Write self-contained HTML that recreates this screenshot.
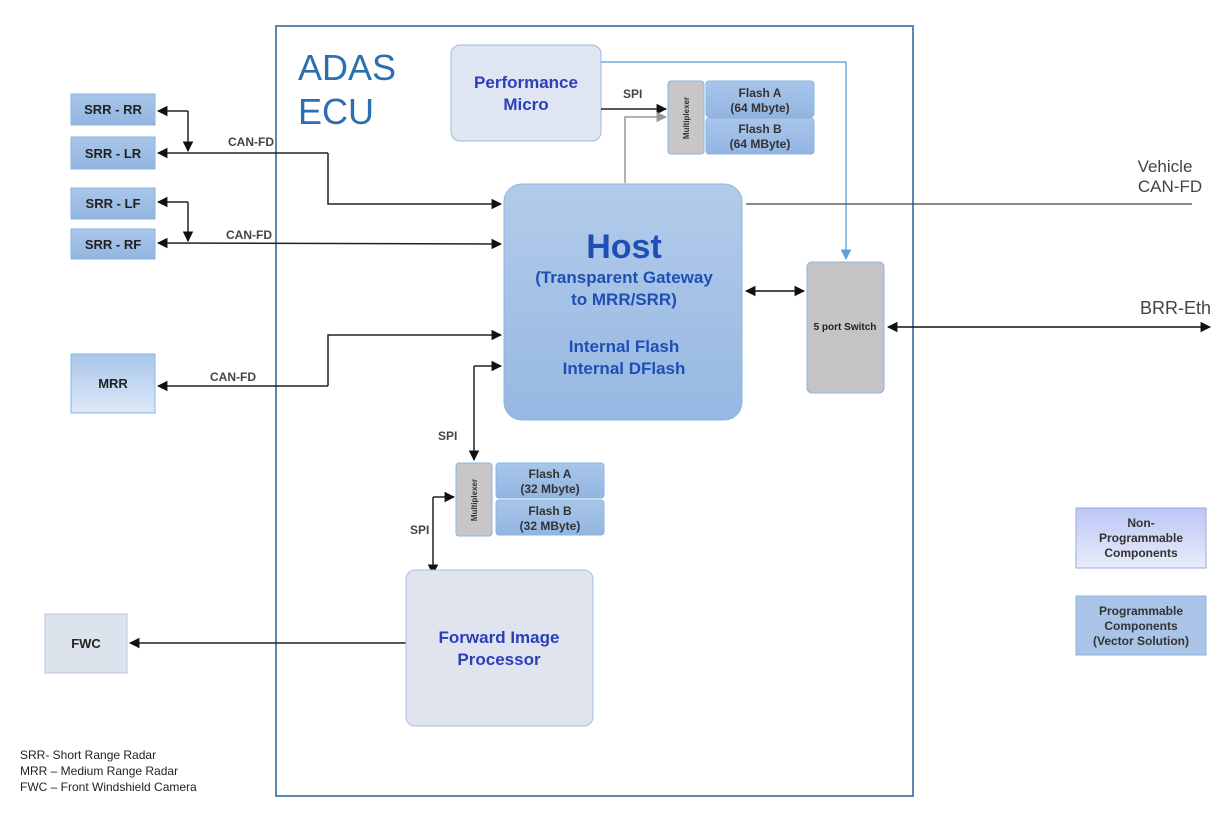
<!DOCTYPE html>
<html><head><meta charset="utf-8"><style>
html,body{margin:0;padding:0;background:#fff;}
svg{display:block;font-family:"Liberation Sans",Arial,sans-serif;}
</style></head><body>
<svg width="1222" height="823" viewBox="0 0 1222 823" xmlns="http://www.w3.org/2000/svg">
<defs>
<marker id="a" viewBox="0 0 10 10" refX="9" refY="5" markerWidth="7" markerHeight="7" orient="auto-start-reverse"><path d="M0,0L10,5L0,10z" fill="#111"/></marker>
<marker id="g" viewBox="0 0 10 10" refX="9" refY="5" markerWidth="7" markerHeight="7" orient="auto"><path d="M0,0L10,5L0,10z" fill="#999"/></marker>
<marker id="b" viewBox="0 0 10 10" refX="9" refY="5" markerWidth="7" markerHeight="7" orient="auto"><path d="M0,0L10,5L0,10z" fill="#5b9fdc"/></marker>
<linearGradient id="host" x1="0" y1="0" x2="0" y2="1"><stop offset="0" stop-color="#b3cbea"/><stop offset="1" stop-color="#96b8e2"/></linearGradient>
<linearGradient id="box" x1="0" y1="0" x2="0" y2="1"><stop offset="0" stop-color="#a9c6ea"/><stop offset="1" stop-color="#92b5e0"/></linearGradient>
<linearGradient id="mrr" x1="0" y1="0" x2="0" y2="1"><stop offset="0" stop-color="#a9c6ea"/><stop offset="1" stop-color="#dde9f8"/></linearGradient>
<linearGradient id="np" x1="0" y1="0" x2="0" y2="1"><stop offset="0" stop-color="#bcc6f4"/><stop offset="1" stop-color="#e8ecfb"/></linearGradient>
</defs>

<rect x="276" y="26" width="637" height="770" fill="none" stroke="#5a86b0" stroke-width="2"/>
<text x="298" y="80" font-size="36" fill="#2a6fb0">ADAS</text>
<text x="298" y="124" font-size="36" fill="#2a6fb0">ECU</text>

<!-- Performance Micro -->
<rect x="451" y="45" width="150" height="96" rx="9" fill="#dfe6f2" stroke="#9bbbe0"/>
<text x="526" y="88" font-size="17" font-weight="bold" fill="#2b3fb8" text-anchor="middle">Performance</text>
<text x="526" y="110" font-size="17" font-weight="bold" fill="#2b3fb8" text-anchor="middle">Micro</text>

<!-- top mux/flash -->
<rect x="668" y="81" width="36" height="73" rx="3" fill="#c8c6c6" stroke="#8ab4e0"/>
<text transform="translate(689,118) rotate(-90)" font-size="8" font-weight="bold" fill="#333" text-anchor="middle">Multiplexer</text>
<rect x="706" y="81" width="108" height="36" rx="3" fill="url(#box)" stroke="#8ab4e0"/>
<rect x="706" y="118" width="108" height="36" rx="3" fill="url(#box)" stroke="#8ab4e0"/>

<!-- bottom mux/flash -->
<rect x="456" y="463" width="36" height="73" rx="3" fill="#c8c6c6" stroke="#8ab4e0"/>
<text transform="translate(477,500) rotate(-90)" font-size="8" font-weight="bold" fill="#333" text-anchor="middle">Multiplexer</text>
<rect x="496" y="463" width="108" height="35" rx="3" fill="url(#box)" stroke="#8ab4e0"/>
<rect x="496" y="500" width="108" height="35" rx="3" fill="url(#box)" stroke="#8ab4e0"/>

<g font-size="12" font-weight="bold" fill="#333" text-anchor="middle">
<text x="760" y="97">Flash A</text><text x="760" y="112">(64 Mbyte)</text>
<text x="760" y="133">Flash B</text><text x="760" y="148">(64 MByte)</text>
<text x="550" y="478">Flash A</text>
<text x="550" y="493">(32 Mbyte)</text>
<text x="550" y="515">Flash B</text>
<text x="550" y="530">(32 MByte)</text>
</g>
<line x1="601" y1="109" x2="666" y2="109" stroke="#222" stroke-width="1.5" marker-end="url(#a)"/>
<text x="623" y="98" font-size="12" font-weight="bold" fill="#444">SPI</text>
<polyline points="625,183 625,117 666,117" fill="none" stroke="#999" stroke-width="1.5" marker-end="url(#g)"/>
<polyline points="601,62 846,62 846,259" fill="none" stroke="#6aa8e0" stroke-width="1.5" marker-end="url(#b)"/>

<!-- Host -->
<rect x="504" y="184" width="238" height="236" rx="18" fill="url(#host)" stroke="#8ab4e0"/>
<g font-weight="bold" fill="#1f4fb5" text-anchor="middle">
<text x="624" y="258" font-size="34">Host</text>
<text x="624" y="283" font-size="17">(Transparent Gateway</text>
<text x="624" y="305" font-size="17">to MRR/SRR)</text>
<text x="624" y="352" font-size="17">Internal Flash</text>
<text x="624" y="374" font-size="17">Internal DFlash</text>
</g>

<!-- Switch -->
<rect x="807" y="262" width="77" height="131" rx="5" fill="#c5c3c4" stroke="#8ab4e0"/>
<text x="845" y="330" font-size="10" font-weight="bold" fill="#222" text-anchor="middle">5 port Switch</text>
<line x1="746" y1="291" x2="804" y2="291" stroke="#111" stroke-width="1.5" marker-start="url(#a)" marker-end="url(#a)"/>
<line x1="888" y1="327" x2="1210" y2="327" stroke="#111" stroke-width="1.5" marker-start="url(#a)" marker-end="url(#a)"/>
<text x="1211" y="314" font-size="18" fill="#444" text-anchor="end">BRR-Eth</text>
<line x1="746" y1="204" x2="1192" y2="204" stroke="#444" stroke-width="1.2"/>
<text x="1165" y="172" font-size="17" fill="#444" text-anchor="middle">Vehicle</text>
<text x="1170" y="192" font-size="17" fill="#444" text-anchor="middle">CAN-FD</text>

<!-- Left boxes -->
<g stroke="#8ab4e0" fill="url(#box)">
<rect x="71" y="94" width="84" height="31"/>
<rect x="71" y="137" width="84" height="32"/>
<rect x="71" y="188" width="84" height="31"/>
<rect x="71" y="229" width="84" height="30"/>
</g>
<rect x="71" y="354" width="84" height="59" fill="url(#mrr)" stroke="#8ab4e0"/>
<rect x="45" y="614" width="82" height="59" fill="#dde3ec" stroke="#b5c7de"/>
<g font-size="13" font-weight="bold" fill="#222" text-anchor="middle">
<text x="113" y="114">SRR - RR</text>
<text x="113" y="158">SRR - LR</text>
<text x="113" y="208">SRR - LF</text>
<text x="113" y="249">SRR - RF</text>
<text x="113" y="388">MRR</text>
<text x="86" y="648">FWC</text>
</g>
<g fill="none" stroke="#222" stroke-width="1.5">
<polyline points="188,111 158,111" marker-end="url(#a)"/>
<polyline points="188,111 188,151" marker-end="url(#a)"/>
<polyline points="328,153 158,153" marker-end="url(#a)"/>
<polyline points="328,153 328,204 501,204" marker-end="url(#a)"/>
<polyline points="188,202 158,202" marker-end="url(#a)"/>
<polyline points="188,202 188,241" marker-end="url(#a)"/>
<line x1="158" y1="243" x2="501" y2="244" marker-start="url(#a)" marker-end="url(#a)"/>
<polyline points="328,386 158,386" marker-end="url(#a)"/>
<polyline points="328,386 328,335 501,335" marker-end="url(#a)"/>
<polyline points="474,366 501,366" marker-end="url(#a)"/>
<polyline points="474,366 474,460" marker-end="url(#a)"/>
<polyline points="433,497 454,497" marker-end="url(#a)"/>
<polyline points="433,497 433,574" marker-end="url(#a)"/>
<polyline points="406,643 130,643" marker-end="url(#a)"/>
</g>
<g font-size="12" font-weight="bold" fill="#444">
<text x="228" y="146">CAN-FD</text>
<text x="226" y="239">CAN-FD</text>
<text x="210" y="381">CAN-FD</text>
<text x="438" y="440">SPI</text>
<text x="410" y="534">SPI</text>
</g>

<!-- FIP -->
<rect x="406" y="570" width="187" height="156" rx="9" fill="#dfe4ef" stroke="#a6c0e0"/>
<text x="499" y="643" font-size="17" font-weight="bold" fill="#2b3fb8" text-anchor="middle">Forward Image</text>
<text x="499" y="665" font-size="17" font-weight="bold" fill="#2b3fb8" text-anchor="middle">Processor</text>

<!-- legend -->
<g font-size="12" fill="#222">
<text x="20" y="759">SRR- Short Range Radar</text>
<text x="20" y="775">MRR – Medium Range Radar</text>
<text x="20" y="791">FWC – Front Windshield Camera</text>
</g>
<rect x="1076" y="508" width="130" height="60" fill="url(#np)" stroke="#9aaae0"/>
<rect x="1076" y="596" width="130" height="59" fill="#a9c4e6" stroke="#8ab4e0"/>
<g font-size="12" font-weight="bold" fill="#333" text-anchor="middle">
<text x="1141" y="527">Non-</text>
<text x="1141" y="542">Programmable</text>
<text x="1141" y="557">Components</text>
<text x="1141" y="615">Programmable</text>
<text x="1141" y="630">Components</text>
<text x="1141" y="645">(Vector Solution)</text>
</g>
</svg>
</body></html>
